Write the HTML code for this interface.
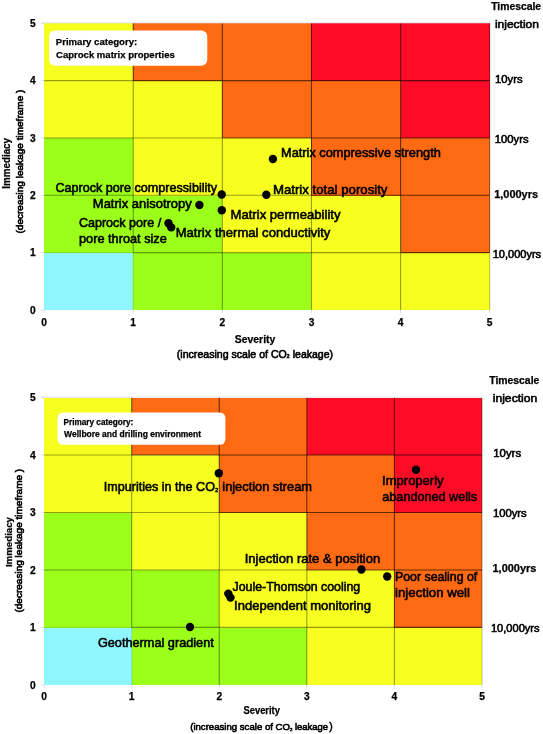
<!DOCTYPE html>
<html lang="en"><head><meta charset="utf-8"><title>Risk matrices</title>
<style>
html,body{margin:0;padding:0;background:#fff}
svg{display:block}
text{font-family:"Liberation Sans",sans-serif;fill:#000;stroke:#000;stroke-width:.55px}
text[font-weight]{stroke-width:.25px}
.sb{stroke-width:.6px}
</style></head><body>
<svg width="543" height="734" viewBox="0 0 543 734">
<rect width="543" height="734" fill="#fff"/>
<g shape-rendering="crispEdges">
<rect x="44.10" y="252.58" width="89.42" height="57.62" fill="#90f6fd"/>
<rect x="133.22" y="252.58" width="89.42" height="57.62" fill="#9cff1a"/>
<rect x="222.34" y="252.58" width="89.42" height="57.62" fill="#9cff1a"/>
<rect x="311.46" y="252.58" width="89.42" height="57.62" fill="#f6ff1f"/>
<rect x="400.58" y="252.58" width="89.42" height="57.62" fill="#f6ff1f"/>
<rect x="44.10" y="195.26" width="89.42" height="57.62" fill="#9cff1a"/>
<rect x="133.22" y="195.26" width="89.42" height="57.62" fill="#9cff1a"/>
<rect x="222.34" y="195.26" width="89.42" height="57.62" fill="#f6ff1f"/>
<rect x="311.46" y="195.26" width="89.42" height="57.62" fill="#f6ff1f"/>
<rect x="400.58" y="195.26" width="89.42" height="57.62" fill="#ff6a12"/>
<rect x="44.10" y="137.94" width="89.42" height="57.62" fill="#9cff1a"/>
<rect x="133.22" y="137.94" width="89.42" height="57.62" fill="#f6ff1f"/>
<rect x="222.34" y="137.94" width="89.42" height="57.62" fill="#f6ff1f"/>
<rect x="311.46" y="137.94" width="89.42" height="57.62" fill="#ff6a12"/>
<rect x="400.58" y="137.94" width="89.42" height="57.62" fill="#ff6a12"/>
<rect x="44.10" y="80.62" width="89.42" height="57.62" fill="#f6ff1f"/>
<rect x="133.22" y="80.62" width="89.42" height="57.62" fill="#f6ff1f"/>
<rect x="222.34" y="80.62" width="89.42" height="57.62" fill="#ff6a12"/>
<rect x="311.46" y="80.62" width="89.42" height="57.62" fill="#ff6a12"/>
<rect x="400.58" y="80.62" width="89.42" height="57.62" fill="#fd0c28"/>
<rect x="44.10" y="23.30" width="89.42" height="57.62" fill="#f6ff1f"/>
<rect x="133.22" y="23.30" width="89.42" height="57.62" fill="#ff6a12"/>
<rect x="222.34" y="23.30" width="89.42" height="57.62" fill="#ff6a12"/>
<rect x="311.46" y="23.30" width="89.42" height="57.62" fill="#fd0c28"/>
<rect x="400.58" y="23.30" width="89.42" height="57.62" fill="#fd0c28"/>
</g>
<line x1="133.22" y1="252.58" x2="133.22" y2="309.90" stroke="#000" stroke-opacity="0.12" stroke-width="1.1"/>
<line x1="133.22" y1="195.26" x2="133.22" y2="252.58" stroke="#000" stroke-opacity="0.38" stroke-width="1.1"/>
<line x1="133.22" y1="137.94" x2="133.22" y2="195.26" stroke="#000" stroke-opacity="0.38" stroke-width="1.1"/>
<line x1="133.22" y1="80.62" x2="133.22" y2="137.94" stroke="#000" stroke-opacity="0.38" stroke-width="1.1"/>
<line x1="133.22" y1="23.30" x2="133.22" y2="80.62" stroke="#000" stroke-opacity="0.6" stroke-width="1.1"/>
<line x1="222.34" y1="252.58" x2="222.34" y2="309.90" stroke="#000" stroke-opacity="0.38" stroke-width="1.1"/>
<line x1="222.34" y1="195.26" x2="222.34" y2="252.58" stroke="#000" stroke-opacity="0.38" stroke-width="1.1"/>
<line x1="222.34" y1="137.94" x2="222.34" y2="195.26" stroke="#000" stroke-opacity="0.38" stroke-width="1.1"/>
<line x1="222.34" y1="80.62" x2="222.34" y2="137.94" stroke="#000" stroke-opacity="0.6" stroke-width="1.1"/>
<line x1="222.34" y1="23.30" x2="222.34" y2="80.62" stroke="#000" stroke-opacity="0.6" stroke-width="1.1"/>
<line x1="311.46" y1="252.58" x2="311.46" y2="309.90" stroke="#000" stroke-opacity="0.38" stroke-width="1.1"/>
<line x1="311.46" y1="195.26" x2="311.46" y2="252.58" stroke="#000" stroke-opacity="0.38" stroke-width="1.1"/>
<line x1="311.46" y1="137.94" x2="311.46" y2="195.26" stroke="#000" stroke-opacity="0.6" stroke-width="1.1"/>
<line x1="311.46" y1="80.62" x2="311.46" y2="137.94" stroke="#000" stroke-opacity="0.6" stroke-width="1.1"/>
<line x1="311.46" y1="23.30" x2="311.46" y2="80.62" stroke="#000" stroke-opacity="0.6" stroke-width="1.1"/>
<line x1="400.58" y1="252.58" x2="400.58" y2="309.90" stroke="#000" stroke-opacity="0.38" stroke-width="1.1"/>
<line x1="400.58" y1="195.26" x2="400.58" y2="252.58" stroke="#000" stroke-opacity="0.6" stroke-width="1.1"/>
<line x1="400.58" y1="137.94" x2="400.58" y2="195.26" stroke="#000" stroke-opacity="0.6" stroke-width="1.1"/>
<line x1="400.58" y1="80.62" x2="400.58" y2="137.94" stroke="#000" stroke-opacity="0.6" stroke-width="1.1"/>
<line x1="400.58" y1="23.30" x2="400.58" y2="80.62" stroke="#000" stroke-opacity="0.6" stroke-width="1.1"/>
<line x1="489.70" y1="252.58" x2="489.70" y2="309.90" stroke="#000" stroke-opacity="0.22799999999999998" stroke-width="1.1"/>
<line x1="489.70" y1="195.26" x2="489.70" y2="252.58" stroke="#000" stroke-opacity="0.36" stroke-width="1.1"/>
<line x1="489.70" y1="137.94" x2="489.70" y2="195.26" stroke="#000" stroke-opacity="0.36" stroke-width="1.1"/>
<line x1="489.70" y1="80.62" x2="489.70" y2="137.94" stroke="#000" stroke-opacity="0.36" stroke-width="1.1"/>
<line x1="489.70" y1="23.30" x2="489.70" y2="80.62" stroke="#000" stroke-opacity="0.36" stroke-width="1.1"/>
<line x1="44.10" y1="252.58" x2="133.22" y2="252.58" stroke="#000" stroke-opacity="0.12" stroke-width="1.1"/>
<line x1="133.22" y1="252.58" x2="222.34" y2="252.58" stroke="#000" stroke-opacity="0.38" stroke-width="1.1"/>
<line x1="222.34" y1="252.58" x2="311.46" y2="252.58" stroke="#000" stroke-opacity="0.38" stroke-width="1.1"/>
<line x1="311.46" y1="252.58" x2="400.58" y2="252.58" stroke="#000" stroke-opacity="0.38" stroke-width="1.1"/>
<line x1="400.58" y1="252.58" x2="489.70" y2="252.58" stroke="#000" stroke-opacity="0.6" stroke-width="1.1"/>
<line x1="44.10" y1="195.26" x2="133.22" y2="195.26" stroke="#000" stroke-opacity="0.38" stroke-width="1.1"/>
<line x1="133.22" y1="195.26" x2="222.34" y2="195.26" stroke="#000" stroke-opacity="0.38" stroke-width="1.1"/>
<line x1="222.34" y1="195.26" x2="311.46" y2="195.26" stroke="#000" stroke-opacity="0.38" stroke-width="1.1"/>
<line x1="311.46" y1="195.26" x2="400.58" y2="195.26" stroke="#000" stroke-opacity="0.6" stroke-width="1.1"/>
<line x1="400.58" y1="195.26" x2="489.70" y2="195.26" stroke="#000" stroke-opacity="0.6" stroke-width="1.1"/>
<line x1="44.10" y1="137.94" x2="133.22" y2="137.94" stroke="#000" stroke-opacity="0.38" stroke-width="1.1"/>
<line x1="133.22" y1="137.94" x2="222.34" y2="137.94" stroke="#000" stroke-opacity="0.38" stroke-width="1.1"/>
<line x1="222.34" y1="137.94" x2="311.46" y2="137.94" stroke="#000" stroke-opacity="0.6" stroke-width="1.1"/>
<line x1="311.46" y1="137.94" x2="400.58" y2="137.94" stroke="#000" stroke-opacity="0.6" stroke-width="1.1"/>
<line x1="400.58" y1="137.94" x2="489.70" y2="137.94" stroke="#000" stroke-opacity="0.6" stroke-width="1.1"/>
<line x1="44.10" y1="80.62" x2="133.22" y2="80.62" stroke="#000" stroke-opacity="0.38" stroke-width="1.1"/>
<line x1="133.22" y1="80.62" x2="222.34" y2="80.62" stroke="#000" stroke-opacity="0.6" stroke-width="1.1"/>
<line x1="222.34" y1="80.62" x2="311.46" y2="80.62" stroke="#000" stroke-opacity="0.6" stroke-width="1.1"/>
<line x1="311.46" y1="80.62" x2="400.58" y2="80.62" stroke="#000" stroke-opacity="0.6" stroke-width="1.1"/>
<line x1="400.58" y1="80.62" x2="489.70" y2="80.62" stroke="#000" stroke-opacity="0.6" stroke-width="1.1"/>
<g stroke="#d3dbe9" stroke-width="0.8">
<line x1="41.10" y1="22.90" x2="489.70" y2="22.90"/>
<line x1="40.90" y1="309.90" x2="44.10" y2="309.90"/>
<line x1="44.10" y1="309.90" x2="44.10" y2="313.10"/>
<line x1="40.90" y1="252.58" x2="44.10" y2="252.58"/>
<line x1="133.22" y1="309.90" x2="133.22" y2="313.10"/>
<line x1="40.90" y1="195.26" x2="44.10" y2="195.26"/>
<line x1="222.34" y1="309.90" x2="222.34" y2="313.10"/>
<line x1="40.90" y1="137.94" x2="44.10" y2="137.94"/>
<line x1="311.46" y1="309.90" x2="311.46" y2="313.10"/>
<line x1="40.90" y1="80.62" x2="44.10" y2="80.62"/>
<line x1="400.58" y1="309.90" x2="400.58" y2="313.10"/>
<line x1="40.90" y1="23.30" x2="44.10" y2="23.30"/>
<line x1="489.70" y1="309.90" x2="489.70" y2="313.10"/>
</g>
<text x="35.6" y="313.5" font-size="10.2" font-weight="bold" text-anchor="end">0</text>
<text x="44.1" y="325.9" font-size="10.2" font-weight="bold" text-anchor="middle">0</text>
<text x="35.6" y="256.2" font-size="10.2" font-weight="bold" text-anchor="end">1</text>
<text x="133.2" y="325.9" font-size="10.2" font-weight="bold" text-anchor="middle">1</text>
<text x="35.6" y="198.9" font-size="10.2" font-weight="bold" text-anchor="end">2</text>
<text x="222.3" y="325.9" font-size="10.2" font-weight="bold" text-anchor="middle">2</text>
<text x="35.6" y="141.5" font-size="10.2" font-weight="bold" text-anchor="end">3</text>
<text x="311.5" y="325.9" font-size="10.2" font-weight="bold" text-anchor="middle">3</text>
<text x="35.6" y="84.2" font-size="10.2" font-weight="bold" text-anchor="end">4</text>
<text x="400.6" y="325.9" font-size="10.2" font-weight="bold" text-anchor="middle">4</text>
<text x="35.6" y="26.9" font-size="10.2" font-weight="bold" text-anchor="end">5</text>
<text x="489.7" y="325.9" font-size="10.2" font-weight="bold" text-anchor="middle">5</text>
<rect x="49" y="30.5" width="158.3" height="35.2" rx="6" ry="6" fill="#fff"/>
<text x="55.8" y="44.8" font-size="9.9" font-weight="bold" textLength="81.4" lengthAdjust="spacingAndGlyphs">Primary category:</text>
<text x="56.0" y="57.8" font-size="9.9" font-weight="bold" textLength="118.8" lengthAdjust="spacingAndGlyphs">Caprock matrix properties</text>
<text x="491.2" y="10.3" font-size="10.4" font-weight="bold" textLength="49.9" lengthAdjust="spacingAndGlyphs">Timescale</text>
<text x="494.9" y="27.6" font-size="10.9" textLength="44.1" lengthAdjust="spacingAndGlyphs">injection</text>
<text x="495.1" y="83.0" font-size="10.2" textLength="27.5" lengthAdjust="spacingAndGlyphs">10yrs</text>
<text x="494.8" y="143.0" font-size="10.2" textLength="33.7" lengthAdjust="spacingAndGlyphs">100yrs</text>
<text x="494.2" y="198.0" font-size="10.2" font-weight="bold" textLength="43.9" lengthAdjust="spacingAndGlyphs">1,000yrs</text>
<text x="492.7" y="257.6" font-size="10.2" textLength="48.4" lengthAdjust="spacingAndGlyphs">10,000yrs</text>
<g transform="translate(9.6,188.0) rotate(-90)">
<text x="-0.7" y="0.0" font-size="10.2" font-weight="bold" textLength="50.7" lengthAdjust="spacingAndGlyphs">Immediacy</text>
</g>
<g transform="translate(23.1,232.9) rotate(-90)">
<text x="-0.6" y="0.0" font-size="9.8" textLength="143.9" lengthAdjust="spacingAndGlyphs" class="sb">(decreasing leakage timeframe )</text>
</g>
<text x="234.8" y="342.9" font-size="11.0" font-weight="bold" textLength="40.5" lengthAdjust="spacingAndGlyphs">Severity</text>
<text x="176.8" y="357.5" font-size="10.7" textLength="110.0" lengthAdjust="spacingAndGlyphs" class="sb">(increasing scale of CO</text>
<text x="286.4" y="357.1" font-size="8.2" class="sb">₂</text>
<text x="292.7" y="357.5" font-size="10.7" textLength="40.4" lengthAdjust="spacingAndGlyphs" class="sb">leakage)</text>
<circle cx="221.7" cy="194.5" r="4.2" fill="#000"/>
<circle cx="199.4" cy="205.0" r="4.2" fill="#000"/>
<circle cx="221.8" cy="210.2" r="4.2" fill="#000"/>
<circle cx="168.5" cy="223.3" r="4.2" fill="#000"/>
<circle cx="171.2" cy="227.4" r="4.2" fill="#000"/>
<circle cx="272.9" cy="159.0" r="4.2" fill="#000"/>
<circle cx="266.3" cy="194.8" r="4.2" fill="#000"/>
<text x="281.0" y="156.6" font-size="12.2" textLength="159.8" lengthAdjust="spacingAndGlyphs">Matrix compressive strength</text>
<text x="272.9" y="194.1" font-size="12.2" textLength="114.6" lengthAdjust="spacingAndGlyphs">Matrix total porosity</text>
<text x="230.5" y="218.9" font-size="12.2" textLength="110.0" lengthAdjust="spacingAndGlyphs">Matrix permeability</text>
<text x="175.7" y="236.9" font-size="12.2" textLength="154.7" lengthAdjust="spacingAndGlyphs">Matrix thermal conductivity</text>
<text x="55.5" y="192.1" font-size="12.2" textLength="161.6" lengthAdjust="spacingAndGlyphs">Caprock pore compressibility</text>
<text x="92.8" y="207.6" font-size="12.2" textLength="99.0" lengthAdjust="spacingAndGlyphs">Matrix anisotropy</text>
<text x="78.9" y="226.7" font-size="12.2" textLength="82.3" lengthAdjust="spacingAndGlyphs">Caprock pore /</text>
<text x="79.0" y="242.8" font-size="12.2" textLength="87.8" lengthAdjust="spacingAndGlyphs">pore throat size</text>
<g shape-rendering="crispEdges">
<rect x="44.10" y="627.42" width="87.88" height="57.78" fill="#90f6fd"/>
<rect x="131.68" y="627.42" width="87.88" height="57.78" fill="#9cff1a"/>
<rect x="219.26" y="627.42" width="87.88" height="57.78" fill="#9cff1a"/>
<rect x="306.84" y="627.42" width="87.88" height="57.78" fill="#f6ff1f"/>
<rect x="394.42" y="627.42" width="87.88" height="57.78" fill="#f6ff1f"/>
<rect x="44.10" y="569.94" width="87.88" height="57.78" fill="#9cff1a"/>
<rect x="131.68" y="569.94" width="87.88" height="57.78" fill="#9cff1a"/>
<rect x="219.26" y="569.94" width="87.88" height="57.78" fill="#f6ff1f"/>
<rect x="306.84" y="569.94" width="87.88" height="57.78" fill="#f6ff1f"/>
<rect x="394.42" y="569.94" width="87.88" height="57.78" fill="#ff6a12"/>
<rect x="44.10" y="512.46" width="87.88" height="57.78" fill="#9cff1a"/>
<rect x="131.68" y="512.46" width="87.88" height="57.78" fill="#f6ff1f"/>
<rect x="219.26" y="512.46" width="87.88" height="57.78" fill="#f6ff1f"/>
<rect x="306.84" y="512.46" width="87.88" height="57.78" fill="#ff6a12"/>
<rect x="394.42" y="512.46" width="87.88" height="57.78" fill="#ff6a12"/>
<rect x="44.10" y="454.98" width="87.88" height="57.78" fill="#f6ff1f"/>
<rect x="131.68" y="454.98" width="87.88" height="57.78" fill="#f6ff1f"/>
<rect x="219.26" y="454.98" width="87.88" height="57.78" fill="#ff6a12"/>
<rect x="306.84" y="454.98" width="87.88" height="57.78" fill="#ff6a12"/>
<rect x="394.42" y="454.98" width="87.88" height="57.78" fill="#fd0c28"/>
<rect x="44.10" y="397.50" width="87.88" height="57.78" fill="#f6ff1f"/>
<rect x="131.68" y="397.50" width="87.88" height="57.78" fill="#ff6a12"/>
<rect x="219.26" y="397.50" width="87.88" height="57.78" fill="#ff6a12"/>
<rect x="306.84" y="397.50" width="87.88" height="57.78" fill="#fd0c28"/>
<rect x="394.42" y="397.50" width="87.88" height="57.78" fill="#fd0c28"/>
</g>
<line x1="131.68" y1="627.42" x2="131.68" y2="684.90" stroke="#000" stroke-opacity="0.12" stroke-width="1.1"/>
<line x1="131.68" y1="569.94" x2="131.68" y2="627.42" stroke="#000" stroke-opacity="0.38" stroke-width="1.1"/>
<line x1="131.68" y1="512.46" x2="131.68" y2="569.94" stroke="#000" stroke-opacity="0.38" stroke-width="1.1"/>
<line x1="131.68" y1="454.98" x2="131.68" y2="512.46" stroke="#000" stroke-opacity="0.38" stroke-width="1.1"/>
<line x1="131.68" y1="397.50" x2="131.68" y2="454.98" stroke="#000" stroke-opacity="0.6" stroke-width="1.1"/>
<line x1="219.26" y1="627.42" x2="219.26" y2="684.90" stroke="#000" stroke-opacity="0.38" stroke-width="1.1"/>
<line x1="219.26" y1="569.94" x2="219.26" y2="627.42" stroke="#000" stroke-opacity="0.38" stroke-width="1.1"/>
<line x1="219.26" y1="512.46" x2="219.26" y2="569.94" stroke="#000" stroke-opacity="0.38" stroke-width="1.1"/>
<line x1="219.26" y1="454.98" x2="219.26" y2="512.46" stroke="#000" stroke-opacity="0.6" stroke-width="1.1"/>
<line x1="219.26" y1="397.50" x2="219.26" y2="454.98" stroke="#000" stroke-opacity="0.6" stroke-width="1.1"/>
<line x1="306.84" y1="627.42" x2="306.84" y2="684.90" stroke="#000" stroke-opacity="0.38" stroke-width="1.1"/>
<line x1="306.84" y1="569.94" x2="306.84" y2="627.42" stroke="#000" stroke-opacity="0.38" stroke-width="1.1"/>
<line x1="306.84" y1="512.46" x2="306.84" y2="569.94" stroke="#000" stroke-opacity="0.6" stroke-width="1.1"/>
<line x1="306.84" y1="454.98" x2="306.84" y2="512.46" stroke="#000" stroke-opacity="0.6" stroke-width="1.1"/>
<line x1="306.84" y1="397.50" x2="306.84" y2="454.98" stroke="#000" stroke-opacity="0.6" stroke-width="1.1"/>
<line x1="394.42" y1="627.42" x2="394.42" y2="684.90" stroke="#000" stroke-opacity="0.38" stroke-width="1.1"/>
<line x1="394.42" y1="569.94" x2="394.42" y2="627.42" stroke="#000" stroke-opacity="0.6" stroke-width="1.1"/>
<line x1="394.42" y1="512.46" x2="394.42" y2="569.94" stroke="#000" stroke-opacity="0.6" stroke-width="1.1"/>
<line x1="394.42" y1="454.98" x2="394.42" y2="512.46" stroke="#000" stroke-opacity="0.6" stroke-width="1.1"/>
<line x1="394.42" y1="397.50" x2="394.42" y2="454.98" stroke="#000" stroke-opacity="0.6" stroke-width="1.1"/>
<line x1="482.00" y1="627.42" x2="482.00" y2="684.90" stroke="#000" stroke-opacity="0.22799999999999998" stroke-width="1.1"/>
<line x1="482.00" y1="569.94" x2="482.00" y2="627.42" stroke="#000" stroke-opacity="0.36" stroke-width="1.1"/>
<line x1="482.00" y1="512.46" x2="482.00" y2="569.94" stroke="#000" stroke-opacity="0.36" stroke-width="1.1"/>
<line x1="482.00" y1="454.98" x2="482.00" y2="512.46" stroke="#000" stroke-opacity="0.36" stroke-width="1.1"/>
<line x1="482.00" y1="397.50" x2="482.00" y2="454.98" stroke="#000" stroke-opacity="0.36" stroke-width="1.1"/>
<line x1="44.10" y1="627.42" x2="131.68" y2="627.42" stroke="#000" stroke-opacity="0.12" stroke-width="1.1"/>
<line x1="131.68" y1="627.42" x2="219.26" y2="627.42" stroke="#000" stroke-opacity="0.38" stroke-width="1.1"/>
<line x1="219.26" y1="627.42" x2="306.84" y2="627.42" stroke="#000" stroke-opacity="0.38" stroke-width="1.1"/>
<line x1="306.84" y1="627.42" x2="394.42" y2="627.42" stroke="#000" stroke-opacity="0.38" stroke-width="1.1"/>
<line x1="394.42" y1="627.42" x2="482.00" y2="627.42" stroke="#000" stroke-opacity="0.6" stroke-width="1.1"/>
<line x1="44.10" y1="569.94" x2="131.68" y2="569.94" stroke="#000" stroke-opacity="0.38" stroke-width="1.1"/>
<line x1="131.68" y1="569.94" x2="219.26" y2="569.94" stroke="#000" stroke-opacity="0.38" stroke-width="1.1"/>
<line x1="219.26" y1="569.94" x2="306.84" y2="569.94" stroke="#000" stroke-opacity="0.38" stroke-width="1.1"/>
<line x1="306.84" y1="569.94" x2="394.42" y2="569.94" stroke="#000" stroke-opacity="0.6" stroke-width="1.1"/>
<line x1="394.42" y1="569.94" x2="482.00" y2="569.94" stroke="#000" stroke-opacity="0.6" stroke-width="1.1"/>
<line x1="44.10" y1="512.46" x2="131.68" y2="512.46" stroke="#000" stroke-opacity="0.38" stroke-width="1.1"/>
<line x1="131.68" y1="512.46" x2="219.26" y2="512.46" stroke="#000" stroke-opacity="0.38" stroke-width="1.1"/>
<line x1="219.26" y1="512.46" x2="306.84" y2="512.46" stroke="#000" stroke-opacity="0.6" stroke-width="1.1"/>
<line x1="306.84" y1="512.46" x2="394.42" y2="512.46" stroke="#000" stroke-opacity="0.6" stroke-width="1.1"/>
<line x1="394.42" y1="512.46" x2="482.00" y2="512.46" stroke="#000" stroke-opacity="0.6" stroke-width="1.1"/>
<line x1="44.10" y1="454.98" x2="131.68" y2="454.98" stroke="#000" stroke-opacity="0.38" stroke-width="1.1"/>
<line x1="131.68" y1="454.98" x2="219.26" y2="454.98" stroke="#000" stroke-opacity="0.6" stroke-width="1.1"/>
<line x1="219.26" y1="454.98" x2="306.84" y2="454.98" stroke="#000" stroke-opacity="0.6" stroke-width="1.1"/>
<line x1="306.84" y1="454.98" x2="394.42" y2="454.98" stroke="#000" stroke-opacity="0.6" stroke-width="1.1"/>
<line x1="394.42" y1="454.98" x2="482.00" y2="454.98" stroke="#000" stroke-opacity="0.6" stroke-width="1.1"/>
<g stroke="#d3dbe9" stroke-width="0.8">
<line x1="41.10" y1="397.10" x2="482.00" y2="397.10"/>
<line x1="40.90" y1="684.90" x2="44.10" y2="684.90"/>
<line x1="44.10" y1="684.90" x2="44.10" y2="688.10"/>
<line x1="40.90" y1="627.42" x2="44.10" y2="627.42"/>
<line x1="131.68" y1="684.90" x2="131.68" y2="688.10"/>
<line x1="40.90" y1="569.94" x2="44.10" y2="569.94"/>
<line x1="219.26" y1="684.90" x2="219.26" y2="688.10"/>
<line x1="40.90" y1="512.46" x2="44.10" y2="512.46"/>
<line x1="306.84" y1="684.90" x2="306.84" y2="688.10"/>
<line x1="40.90" y1="454.98" x2="44.10" y2="454.98"/>
<line x1="394.42" y1="684.90" x2="394.42" y2="688.10"/>
<line x1="40.90" y1="397.50" x2="44.10" y2="397.50"/>
<line x1="482.00" y1="684.90" x2="482.00" y2="688.10"/>
</g>
<text x="35.6" y="688.5" font-size="10.2" font-weight="bold" text-anchor="end">0</text>
<text x="44.1" y="700.4" font-size="10.2" font-weight="bold" text-anchor="middle">0</text>
<text x="35.6" y="631.0" font-size="10.2" font-weight="bold" text-anchor="end">1</text>
<text x="131.7" y="700.4" font-size="10.2" font-weight="bold" text-anchor="middle">1</text>
<text x="35.6" y="573.5" font-size="10.2" font-weight="bold" text-anchor="end">2</text>
<text x="219.3" y="700.4" font-size="10.2" font-weight="bold" text-anchor="middle">2</text>
<text x="35.6" y="516.1" font-size="10.2" font-weight="bold" text-anchor="end">3</text>
<text x="306.8" y="700.4" font-size="10.2" font-weight="bold" text-anchor="middle">3</text>
<text x="35.6" y="458.6" font-size="10.2" font-weight="bold" text-anchor="end">4</text>
<text x="394.4" y="700.4" font-size="10.2" font-weight="bold" text-anchor="middle">4</text>
<text x="35.6" y="401.1" font-size="10.2" font-weight="bold" text-anchor="end">5</text>
<text x="482.0" y="700.4" font-size="10.2" font-weight="bold" text-anchor="middle">5</text>
<rect x="57.5" y="412.5" width="167.9" height="32.3" rx="5.5" ry="5.5" fill="#fff"/>
<text x="63.6" y="424.9" font-size="8.5" font-weight="bold" textLength="69.6" lengthAdjust="spacingAndGlyphs">Primary category:</text>
<text x="64.1" y="436.5" font-size="8.5" font-weight="bold" textLength="137.0" lengthAdjust="spacingAndGlyphs">Wellbore and drilling environment</text>
<text x="489.3" y="384.4" font-size="10.4" font-weight="bold" textLength="50.0" lengthAdjust="spacingAndGlyphs">Timescale</text>
<text x="492.7" y="401.9" font-size="10.9" textLength="44.7" lengthAdjust="spacingAndGlyphs">injection</text>
<text x="493.3" y="457.3" font-size="10.2" textLength="27.8" lengthAdjust="spacingAndGlyphs">10yrs</text>
<text x="492.9" y="516.9" font-size="10.2" textLength="33.8" lengthAdjust="spacingAndGlyphs">100yrs</text>
<text x="492.5" y="571.9" font-size="10.2" font-weight="bold" textLength="43.9" lengthAdjust="spacingAndGlyphs">1,000yrs</text>
<text x="490.9" y="631.5" font-size="10.2" textLength="48.7" lengthAdjust="spacingAndGlyphs">10,000yrs</text>
<g transform="translate(11.6,566.5) rotate(-90)">
<text x="-0.6" y="0.0" font-size="9.5" font-weight="bold" textLength="50.1" lengthAdjust="spacingAndGlyphs">Immediacy</text>
</g>
<g transform="translate(22.3,612.0) rotate(-90)">
<text x="-0.6" y="0.0" font-size="9.8" textLength="143.8" lengthAdjust="spacingAndGlyphs" class="sb">(decreasing leakage timeframe )</text>
</g>
<text x="243.5" y="713.8" font-size="10.3" font-weight="bold" textLength="36.4" lengthAdjust="spacingAndGlyphs">Severity</text>
<text x="190.2" y="730.3" font-size="9.5" textLength="99.8" lengthAdjust="spacingAndGlyphs" class="sb">(increasing scale of CO</text>
<text x="289.8" y="730.0" font-size="7.2" class="sb">₂</text>
<text x="295.0" y="730.3" font-size="9.5" textLength="33.1" lengthAdjust="spacingAndGlyphs" class="sb">leakage</text>
<text x="329.2" y="730.0" font-size="11.2" textLength="3.5" lengthAdjust="spacingAndGlyphs">)</text>
<circle cx="218.8" cy="473.3" r="4.2" fill="#000"/>
<circle cx="416.0" cy="469.8" r="4.2" fill="#000"/>
<circle cx="361.4" cy="569.5" r="4.2" fill="#000"/>
<circle cx="387.2" cy="576.5" r="4.2" fill="#000"/>
<circle cx="228.3" cy="593.6" r="4.2" fill="#000"/>
<circle cx="230.5" cy="597.6" r="4.2" fill="#000"/>
<circle cx="190.0" cy="627.0" r="4.2" fill="#000"/>
<text x="103.7" y="490.8" font-size="12.2" textLength="111.3" lengthAdjust="spacingAndGlyphs">Impurities in the CO</text>
<text x="215.1" y="490.5" font-size="8.2">₂</text>
<text x="222.3" y="490.8" font-size="12.2" textLength="89.7" lengthAdjust="spacingAndGlyphs">injection stream</text>
<text x="382.1" y="484.8" font-size="12.2" textLength="61.5" lengthAdjust="spacingAndGlyphs">Improperly</text>
<text x="382.3" y="501.4" font-size="12.2" textLength="94.9" lengthAdjust="spacingAndGlyphs">abandoned wells</text>
<text x="244.7" y="562.8" font-size="12.2" textLength="135.6" lengthAdjust="spacingAndGlyphs">Injection rate &amp; position</text>
<text x="395.0" y="581.2" font-size="12.2" textLength="82.3" lengthAdjust="spacingAndGlyphs">Poor sealing of</text>
<text x="395.1" y="597.4" font-size="12.2" textLength="74.8" lengthAdjust="spacingAndGlyphs">injection well</text>
<text x="232.5" y="590.8" font-size="12.2" textLength="127.7" lengthAdjust="spacingAndGlyphs">Joule-Thomson cooling</text>
<text x="234.1" y="609.5" font-size="12.2" textLength="136.9" lengthAdjust="spacingAndGlyphs">Independent monitoring</text>
<text x="97.9" y="647.4" font-size="12.2" textLength="115.9" lengthAdjust="spacingAndGlyphs">Geothermal gradient</text>
</svg>
</body></html>
